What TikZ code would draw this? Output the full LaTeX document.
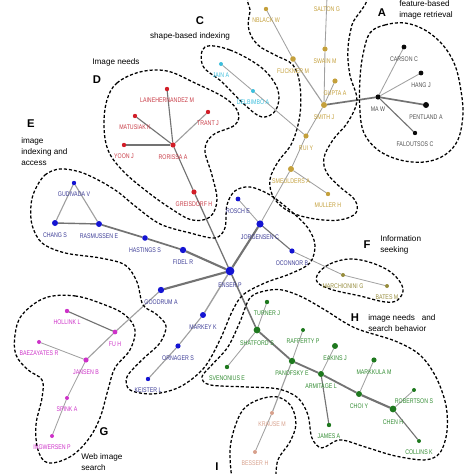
\documentclass[tikz,border=0pt]{standalone}
\usepackage{xcolor}
\usepackage{fontspec}
\setmainfont{Liberation Sans}
\newfontfamily\condfont[FakeStretch=0.78]{Liberation Sans}
\usepackage{tikz}
\usepackage{tikz-network}
\usetikzlibrary{positioning}

\definecolor{cgold}{RGB}{196,160,60}
\definecolor{cblue}{RGB}{20,20,210}
\definecolor{tblue}{RGB}{60,60,150}
\definecolor{cred}{RGB}{210,30,40}
\definecolor{tred}{RGB}{200,60,70}
\definecolor{ccyan}{RGB}{60,190,220}
\definecolor{cblack}{RGB}{10,10,10}
\definecolor{tblack}{RGB}{80,80,80}
\definecolor{colive}{RGB}{150,140,60}
\definecolor{cmag}{RGB}{205,50,200}
\definecolor{cgreen}{RGB}{30,120,30}
\definecolor{tgreen}{RGB}{50,140,50}
\definecolor{ctan}{RGB}{215,160,140}
\definecolor{elight}{RGB}{160,160,160}
\definecolor{edark}{RGB}{115,115,115}

\newcommand\namefont{\condfont\fontsize{4.8}{5}\selectfont}
\newcommand\headfont{\fontsize{5.8}{7.8}\selectfont}
\newcommand\letterfont{\bfseries\fontsize{8}{8}\selectfont}

\tikzset{
  blob/.style={draw=black, line width=0.9pt, dash pattern=on 2.2pt off 1.4pt},
  heading/.style={font=\letterfont, inner sep=0pt},
  topic/.style={font=\headfont, align=left, inner sep=0pt},
}

\begin{document}
\begin{tikzpicture}
	\useasboundingbox (0,0) rectangle (11.85,11.85);
	\SetVertexStyle[LineWidth=0pt, LineOpacity=0, InnerSep=0pt, OuterSep=0pt]
	% dashed groups (pixel units)
	\begin{scope}[yshift=11.85cm, x=0.025cm, y=-0.025cm]
	\draw[blob] plot[smooth cycle, tension=0.6] coordinates {(370,33) (385,25) (405,23) (425,30) (443,45) (455,65) (461,90) (463,115) (458,140) (445,155) (425,162) (400,160) (378,150) (364,133) (360,110) (360,80) (363,55)};
	\draw[blob] plot[smooth cycle, tension=0.6] coordinates {(205,47) (230,50) (262,68) (278,90) (276,110) (262,117) (245,105) (222,82) (203,66)};
	\draw[blob] plot[smooth cycle, tension=0.6] coordinates {(258,-8) (250,12) (249,30) (258,45) (275,55) (293,65) (300,85) (300,115) (292,143) (278,162) (270,180) (274,198) (290,212) (315,219) (340,220) (356,213) (355,200) (340,187) (327,173) (324,158) (333,140) (348,122) (357,100) (350,75) (348,50) (352,25) (362,-8)};
	\draw[blob] plot[smooth cycle, tension=0.6] coordinates {(107,100) (117,83) (140,72) (167,71) (195,83) (225,98) (238,112) (235,125) (213,135) (205,150) (212,175) (217,200) (210,217) (192,220) (170,208) (145,190) (122,170) (108,150) (104,125)};
	\draw[blob] plot[smooth cycle, tension=0.55] coordinates {(35,190) (45,175) (60,169) (80,172) (100,181) (118,192) (135,206) (160,224) (190,233) (215,238) (225,228) (227,205) (235,191) (250,187) (270,195) (292,212) (308,228) (315,245) (310,263) (290,274) (265,283) (243,295) (232,312) (220,340) (204,368) (180,387) (153,394) (130,390) (127,377) (142,360) (160,343) (166,326) (156,314) (143,305) (137,282) (125,265) (100,258) (65,253) (42,243) (32,225) (31,205)};
	\draw[blob] plot[smooth cycle, tension=0.6] coordinates {(318,274) (330,264) (350,259) (372,263) (392,273) (403,288) (398,300) (385,302) (360,296) (333,290) (318,283)};
	\draw[blob] plot[smooth cycle, tension=0.6] coordinates {(45,298) (75,296) (105,305) (125,315) (135,330) (130,350) (115,368) (108,390) (100,418) (88,440) (70,457) (48,463) (38,450) (36,425) (42,398) (42,380) (28,370) (16,355) (15,335) (22,315)};
	\draw[blob] plot[smooth cycle, tension=0.55] coordinates {(250,298) (265,291) (282,290) (302,297) (325,310) (355,328) (395,341) (420,355) (436,377) (446,405) (447,432) (440,453) (425,460) (395,456) (365,447) (340,440) (322,448) (312,438) (308,415) (298,398) (278,389) (245,387) (210,385) (202,377) (212,365) (228,347) (240,322)};
	\draw[blob] plot[smooth, tension=0.6] coordinates {(276,480) (278,460) (290,442) (296,424) (291,406) (277,397) (258,400) (243,410) (234,430) (230,452) (232,480)};
	\end{scope}
	% authors
	\Vertex[x=8.175, y=11.925, size=0.13, color=cgold, label=SALTON G, position=below, distance=0.5mm, fontcolor=cgold, fontsize=\namefont]{salton}
	\Vertex[x=6.65, y=11.625, size=0.11, color=cgold, label=NBLACK W, position=below, distance=0.5mm, fontcolor=cgold, fontsize=\namefont]{black}
	\Vertex[x=8.125, y=10.625, size=0.13, color=cgold, label=SWAIN M, position=below, distance=0.5mm, fontcolor=cgold, fontsize=\namefont]{swain}
	\Vertex[x=7.325, y=10.375, size=0.14, color=cgold, label=FLICKNER M, position=below, distance=0.5mm, fontcolor=cgold, fontsize=\namefont]{flickner}
	\Vertex[x=8.375, y=9.825, size=0.13, color=cgold, label=GUPTA A, position=below, distance=0.5mm, fontcolor=cgold, fontsize=\namefont]{gupta}
	\Vertex[x=8.1, y=9.225, size=0.15, color=cgold, label=SMITH J, position=below, distance=0.5mm, fontcolor=cgold, fontsize=\namefont]{smith}
	\Vertex[x=7.65, y=8.45, size=0.13, color=cgold, label=RUI Y, position=below, distance=0.5mm, fontcolor=cgold, fontsize=\namefont]{rui}
	\Vertex[x=7.275, y=7.625, size=0.15, color=cgold, label=SMEULDERS A, position=below, distance=0.5mm, fontcolor=cgold, fontsize=\namefont]{smeulders}
	\Vertex[x=8.2, y=7.0, size=0.11, color=cgold, label=MULLER H, position=below, distance=0.5mm, fontcolor=cgold, fontsize=\namefont]{muller}
	\Vertex[x=5.525, y=10.25, size=0.1, color=ccyan, label=JAIN A, position=below, distance=0.5mm, fontcolor=ccyan, fontsize=\namefont]{jain}
	\Vertex[x=6.325, y=9.575, size=0.1, color=ccyan, label=DELBIMBO A, position=below, distance=0.5mm, fontcolor=ccyan, fontsize=\namefont]{delbimbo}
	\Vertex[x=9.45, y=9.425, size=0.13, color=cblack, label=MA W, position=below, distance=0.5mm, fontcolor=tblack, fontsize=\namefont]{ma}
	\Vertex[x=10.1, y=10.675, size=0.12, color=cblack, label=CARSON C, position=below, distance=0.5mm, fontcolor=tblack, fontsize=\namefont]{carson}
	\Vertex[x=10.525, y=10.025, size=0.12, color=cblack, label=HANG J, position=below, distance=0.5mm, fontcolor=tblack, fontsize=\namefont]{hang}
	\Vertex[x=10.65, y=9.225, size=0.15, color=cblack, label=PENTLAND A, position=below, distance=0.5mm, fontcolor=tblack, fontsize=\namefont]{pentland}
	\Vertex[x=10.375, y=8.525, size=0.11, color=cblack, label=FALOUTSOS C, position=below, distance=0.5mm, fontcolor=tblack, fontsize=\namefont]{faloutsos}
	\Vertex[x=4.175, y=9.625, size=0.11, color=cred, label=LAINEHERNANDEZ M, position=below, distance=0.5mm, fontcolor=tred, fontsize=\namefont]{laine}
	\Vertex[x=3.375, y=8.95, size=0.11, color=cred, label=MATUSIAK K, position=below, distance=0.5mm, fontcolor=tred, fontsize=\namefont]{matusiak}
	\Vertex[x=5.2, y=9.05, size=0.11, color=cred, label=TRANT J, position=below, distance=0.5mm, fontcolor=tred, fontsize=\namefont]{trant}
	\Vertex[x=3.1, y=8.225, size=0.11, color=cred, label=YOON J, position=below, distance=0.5mm, fontcolor=tred, fontsize=\namefont]{yoon}
	\Vertex[x=4.325, y=8.225, size=0.13, color=cred, label=RORISSA A, position=below, distance=0.5mm, fontcolor=tred, fontsize=\namefont]{rorissa}
	\Vertex[x=4.85, y=7.05, size=0.13, color=cred, label=GREISDORF H, position=below, distance=0.5mm, fontcolor=tred, fontsize=\namefont]{greisdorf}
	\Vertex[x=1.85, y=7.275, size=0.11, color=cblue, label=GUDIVADA V, position=below, distance=0.5mm, fontcolor=tblue, fontsize=\namefont]{gudivada}
	\Vertex[x=1.375, y=6.275, size=0.15, color=cblue, label=CHANG S, position=below, distance=0.5mm, fontcolor=tblue, fontsize=\namefont]{chang}
	\Vertex[x=2.475, y=6.25, size=0.15, color=cblue, label=RASMUSSEN E, position=below, distance=0.5mm, fontcolor=tblue, fontsize=\namefont]{rasmussen}
	\Vertex[x=3.625, y=5.9, size=0.14, color=cblue, label=HASTINGS S, position=below, distance=0.5mm, fontcolor=tblue, fontsize=\namefont]{hastings}
	\Vertex[x=4.575, y=5.6, size=0.16, color=cblue, label=FIDEL R, position=below, distance=0.5mm, fontcolor=tblue, fontsize=\namefont]{fidel}
	\Vertex[x=5.75, y=5.075, size=0.22, color=cblue, label=ENSER P, position=below, distance=0.5mm, fontcolor=tblue, fontsize=\namefont]{enser}
	\Vertex[x=5.95, y=6.875, size=0.12, color=cblue, label=ROSCH E, position=below, distance=0.5mm, fontcolor=tblue, fontsize=\namefont]{rosch}
	\Vertex[x=6.5, y=6.25, size=0.18, color=cblue, label=JORGENSEN C, position=below, distance=0.5mm, fontcolor=tblue, fontsize=\namefont]{jorgensen}
	\Vertex[x=7.3, y=5.575, size=0.13, color=cblue, label=OCONNOR B, position=below, distance=0.5mm, fontcolor=tblue, fontsize=\namefont]{oconnor}
	\Vertex[x=4.025, y=4.6, size=0.16, color=cblue, label=GOODRUM A, position=below, distance=0.5mm, fontcolor=tblue, fontsize=\namefont]{goodrum}
	\Vertex[x=5.075, y=3.975, size=0.15, color=cblue, label=MARKEY K, position=below, distance=0.5mm, fontcolor=tblue, fontsize=\namefont]{markey}
	\Vertex[x=4.45, y=3.2, size=0.13, color=cblue, label=ORNAGER S, position=below, distance=0.5mm, fontcolor=tblue, fontsize=\namefont]{ornager}
	\Vertex[x=3.7, y=2.375, size=0.11, color=cblue, label=KEISTER L, position=below, distance=0.5mm, fontcolor=tblue, fontsize=\namefont]{keister}
	\Vertex[x=8.575, y=4.975, size=0.1, color=colive, label=MARCHIONINI G, position=below, distance=0.5mm, fontcolor=colive, fontsize=\namefont]{marchionini}
	\Vertex[x=9.675, y=4.7, size=0.1, color=colive, label=BATES M, position=below, distance=0.5mm, fontcolor=colive, fontsize=\namefont]{bates}
	\Vertex[x=1.675, y=4.075, size=0.11, color=cmag, label=HOLLINK L, position=below, distance=0.5mm, fontcolor=cmag, fontsize=\namefont]{hollink}
	\Vertex[x=2.875, y=3.55, size=0.12, color=cmag, label=FU H, position=below, distance=0.5mm, fontcolor=cmag, fontsize=\namefont]{fu}
	\Vertex[x=0.975, y=3.3, size=0.1, color=cmag, label=BAEZAYATES R, position=below, distance=0.5mm, fontcolor=cmag, fontsize=\namefont]{baezayates}
	\Vertex[x=2.15, y=2.85, size=0.13, color=cmag, label=JANSEN B, position=below, distance=0.5mm, fontcolor=cmag, fontsize=\namefont]{jansen}
	\Vertex[x=1.675, y=1.9, size=0.1, color=cmag, label=SPINK A, position=below, distance=0.5mm, fontcolor=cmag, fontsize=\namefont]{spink}
	\Vertex[x=1.3, y=0.95, size=0.1, color=cmag, label=INGWERSEN P, position=below, distance=0.5mm, fontcolor=cmag, fontsize=\namefont]{ingwersen}
	\Vertex[x=6.675, y=4.3, size=0.11, color=cgreen, label=TURNER J, position=below, distance=0.5mm, fontcolor=tgreen, fontsize=\namefont]{turner}
	\Vertex[x=6.425, y=3.6, size=0.17, color=cgreen, label=SHATFORD S, position=below, distance=0.5mm, fontcolor=tgreen, fontsize=\namefont]{shatford}
	\Vertex[x=5.675, y=2.675, size=0.11, color=cgreen, label=SVENONIUS E, position=below, distance=0.5mm, fontcolor=tgreen, fontsize=\namefont]{svenonius}
	\Vertex[x=7.575, y=3.6, size=0.1, color=cgreen, label=RAFFERTY P, position=below, distance=0.5mm, fontcolor=tgreen, fontsize=\namefont]{rafferty}
	\Vertex[x=7.3, y=2.825, size=0.16, color=cgreen, label=PANOFSKY E, position=below, distance=0.5mm, fontcolor=tgreen, fontsize=\namefont]{panofsky}
	\Vertex[x=8.375, y=3.2, size=0.15, color=cgreen, label=EAKINS J, position=below, distance=0.5mm, fontcolor=tgreen, fontsize=\namefont]{eakins}
	\Vertex[x=8.025, y=2.5, size=0.15, color=cgreen, label=ARMITAGE L, position=below, distance=0.5mm, fontcolor=tgreen, fontsize=\namefont]{armitage}
	\Vertex[x=9.35, y=2.85, size=0.13, color=cgreen, label=MARKKULA M, position=below, distance=0.5mm, fontcolor=tgreen, fontsize=\namefont]{markkula}
	\Vertex[x=8.975, y=2.0, size=0.15, color=cgreen, label=CHOI Y, position=below, distance=0.5mm, fontcolor=tgreen, fontsize=\namefont]{choi}
	\Vertex[x=10.35, y=2.1, size=0.1, color=cgreen, label=ROBERTSON S, position=below, distance=0.5mm, fontcolor=tgreen, fontsize=\namefont]{robertson}
	\Vertex[x=9.825, y=1.625, size=0.17, color=cgreen, label=CHEN H, position=below, distance=0.5mm, fontcolor=tgreen, fontsize=\namefont]{chen}
	\Vertex[x=8.225, y=1.225, size=0.11, color=cgreen, label=JAMES A, position=below, distance=0.5mm, fontcolor=tgreen, fontsize=\namefont]{james}
	\Vertex[x=10.475, y=0.825, size=0.1, color=cgreen, label=COLLINS K, position=below, distance=0.5mm, fontcolor=tgreen, fontsize=\namefont]{collins}
	\Vertex[x=6.8, y=1.525, size=0.1, color=ctan, label=KRAUSE M, position=below, distance=0.5mm, fontcolor=ctan, fontsize=\namefont]{krause}
	\Vertex[x=6.375, y=0.55, size=0.1, color=ctan, label=BESSER H, position=below, distance=0.5mm, fontcolor=ctan, fontsize=\namefont]{besser}
	% co-citation links
	\Edge[color=elight, lw=0.6](salton)(swain)
	\Edge[color=elight, lw=0.6](swain)(smith)
	\Edge[color=elight, lw=0.6](black)(flickner)
	\Edge[color=elight, lw=0.8](flickner)(smith)
	\Edge[color=elight, lw=0.6](gupta)(smith)
	\Edge[color=elight, lw=0.6](smith)(rui)
	\Edge[color=elight, lw=0.6](rui)(smeulders)
	\Edge[color=elight, lw=0.6](smeulders)(muller)
	\Edge[color=elight, lw=0.6](smeulders)(jorgensen)
	\Edge[color=elight, lw=0.6](delbimbo)(rui)
	\Edge[color=elight, lw=0.6](jain)(delbimbo)
	\Edge[color=edark, lw=1.2](smith)(ma)
	\Edge[color=elight, lw=0.6](ma)(carson)
	\Edge[color=elight, lw=0.6](ma)(hang)
	\Edge[color=edark, lw=1.2](ma)(pentland)
	\Edge[color=edark, lw=0.8](ma)(faloutsos)
	\Edge[color=edark, lw=0.8](laine)(rorissa)
	\Edge[color=edark, lw=0.8](matusiak)(rorissa)
	\Edge[color=elight, lw=0.8](trant)(rorissa)
	\Edge[color=edark, lw=0.8](yoon)(rorissa)
	\Edge[color=edark, lw=0.8](rorissa)(greisdorf)
	\Edge[color=edark, lw=0.9](greisdorf)(enser)
	\Edge[color=elight, lw=0.8](gudivada)(chang)
	\Edge[color=elight, lw=0.8](gudivada)(rasmussen)
	\Edge[color=edark, lw=1](chang)(rasmussen)
	\Edge[color=edark, lw=1.2](rasmussen)(hastings)
	\Edge[color=edark, lw=1.2](hastings)(fidel)
	\Edge[color=edark, lw=1.5](fidel)(enser)
	\Edge[color=edark, lw=1.5](enser)(jorgensen)
	\Edge[color=elight, lw=0.6](rosch)(jorgensen)
	\Edge[color=edark, lw=0.8](jorgensen)(oconnor)
	\Edge[color=elight, lw=0.6](oconnor)(marchionini)
	\Edge[color=elight, lw=0.6](marchionini)(bates)
	\Edge[color=edark, lw=1.5](enser)(goodrum)
	\Edge[color=elight, lw=0.8](goodrum)(fu)
	\Edge[color=edark, lw=0.8](fu)(hollink)
	\Edge[color=elight, lw=0.8](fu)(jansen)
	\Edge[color=elight, lw=0.6](jansen)(baezayates)
	\Edge[color=elight, lw=0.6](jansen)(spink)
	\Edge[color=elight, lw=0.6](spink)(ingwersen)
	\Edge[color=elight, lw=1](enser)(markey)
	\Edge[color=elight, lw=0.8](markey)(ornager)
	\Edge[color=elight, lw=0.8](ornager)(keister)
	\Edge[color=edark, lw=1.1](enser)(shatford)
	\Edge[color=elight, lw=0.6](turner)(shatford)
	\Edge[color=elight, lw=0.6](shatford)(svenonius)
	\Edge[color=edark, lw=1.3](shatford)(panofsky)
	\Edge[color=elight, lw=0.6](rafferty)(panofsky)
	\Edge[color=edark, lw=1.3](panofsky)(armitage)
	\Edge[color=elight, lw=0.8](panofsky)(krause)
	\Edge[color=elight, lw=0.6](krause)(besser)
	\Edge[color=elight, lw=0.6](armitage)(eakins)
	\Edge[color=edark, lw=0.8](armitage)(james)
	\Edge[color=edark, lw=1.3](armitage)(choi)
	\Edge[color=elight, lw=0.6](choi)(markkula)
	\Edge[color=edark, lw=1.5](choi)(chen)
	\Edge[color=elight, lw=0.6](chen)(robertson)
	\Edge[color=edark, lw=0.8](chen)(collins)
	% group headings
	\node[heading] (lblA) at (9.55, 11.525) {A};
	\node[topic, anchor=west] (txtA) at (9.975, 11.6) {feature-based\\image retrieval};
	\node[heading] (lblC) at (5.0, 11.325) {C};
	\node[topic] (txtC) at (4.75, 10.95) {shape-based indexing};
	\node[topic] (txtD) at (2.9, 10.3) {Image needs};
	\node[heading] (lblD) at (2.425, 9.85) {D};
	\node[heading] (lblE) at (0.775, 8.75) {E};
	\node[topic, anchor=north west] (txtE) at (0.525, 8.42) {image\\indexing and\\access};
	\node[heading] (lblF) at (9.175, 5.725) {F};
	\node[topic, anchor=west] (txtF) at (9.5, 5.725) {Information\\seeking};
	\node[heading] (lblH) at (8.875, 3.9) {H};
	\node[topic, anchor=west] (txtH) at (9.2, 3.775) {image needs~~~and\\search behavior};
	\node[heading] (lblG) at (2.6, 1.05) {G};
	\node[topic, anchor=west] (txtG) at (2.025, 0.3) {Web image\\search};
	\node[heading] (lblI) at (5.425, 0.175) {I};
\end{tikzpicture}
\end{document}
